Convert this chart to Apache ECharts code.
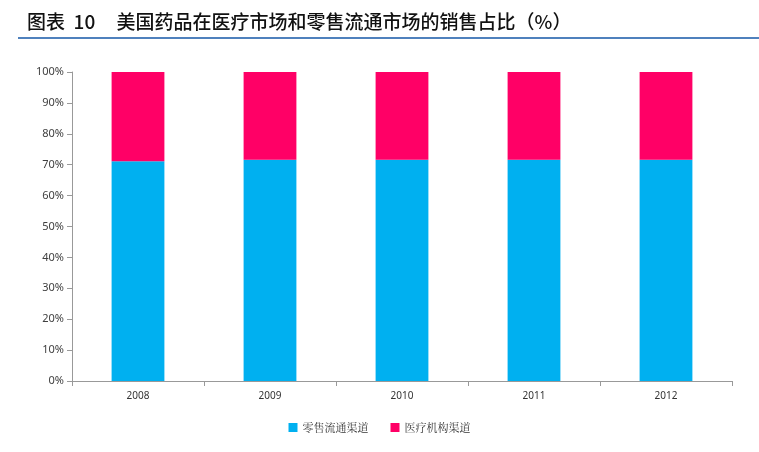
<!DOCTYPE html>
<html lang="zh">
<head>
    <meta charset="UTF-8">
    <title>美国药品销售占比</title>
    <script src="https://cdn.jsdelivr.net/npm/echarts@6/dist/echarts.min.js"></script>
    <style>
        body {
            padding: 0;
            margin: 0;
            border: none;
            background: #fff;
        }
        #ec {
            width: 759px;
            height: 452px;
        }
    </style>
</head>
<body>
<div id="ec"></div>
<script>
    // 数据
    const years = ['2008', '2009', '2010', '2011', '2012'];
    const retail = [71.1, 71.6, 71.6, 71.6, 71.6];
    const medical = [28.9, 28.4, 28.4, 28.4, 28.4];
    const seriesNames = ['零售流通渠道', '医疗机构渠道'];
    const colors = ['#00B0F0', '#FF0066'];

    let ec = echarts.init(document.getElementById('ec'));
    let option = {
        animation: false,
        title: {
            text: '图表  10     美国药品在医疗市场和零售流通市场的销售占比（%）',
            left: 22,
            top: 7,
            textStyle: {
                fontFamily: 'Noto Sans CJK SC',
                fontSize: 19,
                fontWeight: 500,
                color: '#111'
            }
        },
        graphic: [{
            type: 'line',
            shape: {x1: 18, y1: 38, x2: 759, y2: 38},
            style: {stroke: '#4F81BD', lineWidth: 2}
        }],
        legend: {
            data: seriesNames,
            bottom: 14,
            left: 'center',
            itemWidth: 9,
            itemHeight: 9,
            itemGap: 22,
            icon: 'rect',
            textStyle: {
                fontFamily: 'Noto Serif CJK SC, Noto Sans CJK SC',
                fontSize: 11,
                color: '#333'
            }
        },
        grid: {
            left: 72,
            right: 27,
            top: 72,
            bottom: 71
        },
        xAxis: {
            type: 'category',
            data: years,
            axisLine: {lineStyle: {color: '#999'}},
            axisTick: {show: true, alignWithLabel: false, lineStyle: {color: '#999'}},
            axisLabel: {color: '#333', fontSize: 10, margin: 10, fontFamily: 'Noto Sans'}
        },
        yAxis: {
            type: 'value',
            min: 0,
            max: 100,
            interval: 10,
            axisLine: {show: true, lineStyle: {color: '#999'}},
            axisTick: {show: true, lineStyle: {color: '#999'}},
            splitLine: {show: false},
            axisLabel: {
                color: '#404040',
                fontSize: 11,
                margin: 8,
                fontFamily: 'Noto Sans',
                formatter: '{value}%'
            }
        },
        series: [{
            name: seriesNames[0],
            type: 'bar',
            stack: 'total',
            barWidth: '40%',
            itemStyle: {color: colors[0]},
            data: retail
        }, {
            name: seriesNames[1],
            type: 'bar',
            stack: 'total',
            barWidth: '40%',
            itemStyle: {color: colors[1]},
            data: medical
        }]
    };
    ec.setOption(option);
</script>
</body>
</html>
